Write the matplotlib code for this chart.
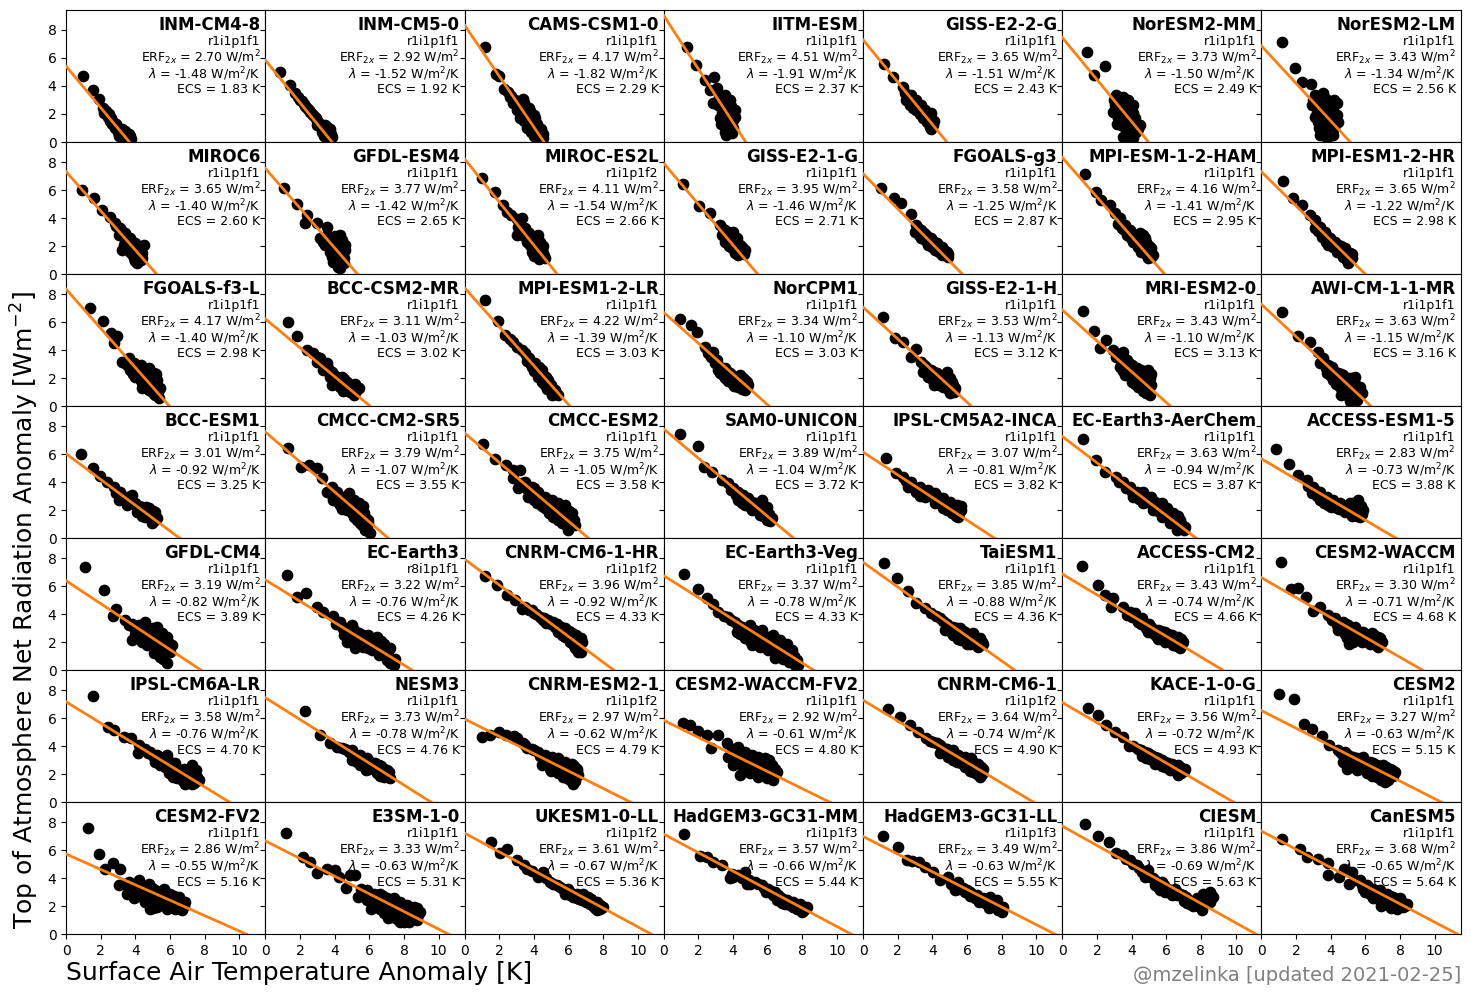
import numpy as np
import matplotlib
matplotlib.use("Agg")
import matplotlib.pyplot as plt

# Modelos, en el orden de la figura (fila por fila)
modelos = ["INM-CM4-8", "INM-CM5-0", "CAMS-CSM1-0", "IITM-ESM", "GISS-E2-2-G", "NorESM2-MM", "NorESM2-LM",
           "MIROC6", "GFDL-ESM4", "MIROC-ES2L", "GISS-E2-1-G", "FGOALS-g3", "MPI-ESM-1-2-HAM", "MPI-ESM1-2-HR",
           "FGOALS-f3-L", "BCC-CSM2-MR", "MPI-ESM1-2-LR", "NorCPM1", "GISS-E2-1-H", "MRI-ESM2-0", "AWI-CM-1-1-MR",
           "BCC-ESM1", "CMCC-CM2-SR5", "CMCC-ESM2", "SAM0-UNICON", "IPSL-CM5A2-INCA", "EC-Earth3-AerChem", "ACCESS-ESM1-5",
           "GFDL-CM4", "EC-Earth3", "CNRM-CM6-1-HR", "EC-Earth3-Veg", "TaiESM1", "ACCESS-CM2", "CESM2-WACCM",
           "IPSL-CM6A-LR", "NESM3", "CNRM-ESM2-1", "CESM2-WACCM-FV2", "CNRM-CM6-1", "KACE-1-0-G", "CESM2",
           "CESM2-FV2", "E3SM-1-0", "UKESM1-0-LL", "HadGEM3-GC31-MM", "HadGEM3-GC31-LL", "CIESM", "CanESM5"]

ripf = ["r1i1p1f1"] * 7 + \
       ["r1i1p1f1", "r1i1p1f1", "r1i1p1f2", "r1i1p1f1", "r1i1p1f1", "r1i1p1f1", "r1i1p1f1"] + \
       ["r1i1p1f1"] * 7 + \
       ["r1i1p1f1"] * 7 + \
       ["r1i1p1f1", "r8i1p1f1", "r1i1p1f2", "r1i1p1f1", "r1i1p1f1", "r1i1p1f1", "r1i1p1f1"] + \
       ["r1i1p1f1", "r1i1p1f1", "r1i1p1f2", "r1i1p1f1", "r1i1p1f2", "r1i1p1f1", "r1i1p1f1"] + \
       ["r1i1p1f1", "r1i1p1f1", "r1i1p1f2", "r1i1p1f3", "r1i1p1f3", "r1i1p1f1", "r1i1p1f1"]

erf2x = [2.70, 2.92, 4.17, 4.51, 3.65, 3.73, 3.43,
         3.65, 3.77, 4.11, 3.95, 3.58, 4.16, 3.65,
         4.17, 3.11, 4.22, 3.34, 3.53, 3.43, 3.63,
         3.01, 3.79, 3.75, 3.89, 3.07, 3.63, 2.83,
         3.19, 3.22, 3.96, 3.37, 3.85, 3.43, 3.30,
         3.58, 3.73, 2.97, 2.92, 3.64, 3.56, 3.27,
         2.86, 3.33, 3.61, 3.57, 3.49, 3.86, 3.68]

lam = [-1.48, -1.52, -1.82, -1.91, -1.51, -1.50, -1.34,
       -1.40, -1.42, -1.54, -1.46, -1.25, -1.41, -1.22,
       -1.40, -1.03, -1.39, -1.10, -1.13, -1.10, -1.15,
       -0.92, -1.07, -1.05, -1.04, -0.81, -0.94, -0.73,
       -0.82, -0.76, -0.92, -0.78, -0.88, -0.74, -0.71,
       -0.76, -0.78, -0.62, -0.61, -0.74, -0.72, -0.63,
       -0.55, -0.63, -0.67, -0.66, -0.63, -0.69, -0.65]

ecs = [1.83, 1.92, 2.29, 2.37, 2.43, 2.49, 2.56,
       2.60, 2.65, 2.66, 2.71, 2.87, 2.95, 2.98,
       2.98, 3.02, 3.03, 3.03, 3.12, 3.13, 3.16,
       3.25, 3.55, 3.58, 3.72, 3.82, 3.87, 3.88,
       3.89, 4.26, 4.33, 4.33, 4.36, 4.66, 4.68,
       4.70, 4.76, 4.79, 4.80, 4.90, 4.93, 5.15,
       5.16, 5.31, 5.36, 5.44, 5.55, 5.63, 5.64]

# Puntos (anomalia de temperatura [K], anomalia de radiacion neta [W/m2])
puntos = [
    # fila 1
    [(0.96, 4.71), (1.52, 3.71), (1.92, 3.07), (2.1, 2.4), (2.3, 2.2), (2.45, 2.0), (2.55, 1.5), (2.6, 1.7),
     (2.7, 1.45), (2.8, 1.0), (2.85, 1.25), (2.95, 1.0), (3.0, 0.7), (3.1, 0.85), (3.2, 0.6), (3.3, 0.3),
     (3.35, 0.5), (3.4, 0.8), (3.5, 0.4), (3.6, 0.25), (3.7, 0.4)],
    [(0.85, 5.02), (1.43, 4.07), (1.71, 3.48), (1.9, 3.2), (2.1, 2.9), (2.3, 2.6), (2.5, 2.3), (2.7, 2.0),
     (2.9, 1.7), (3.0, 1.5), (3.1, 1.35), (3.2, 1.1), (3.35, 0.9), (3.4, 0.45), (3.5, 0.7), (3.55, 1.1),
     (3.6, 0.5), (3.7, 0.35), (3.75, 0.9), (3.8, 0.6)],
    [(1.17, 6.8), (1.8, 4.85), (2.0, 4.7), (2.3, 3.8), (2.5, 3.6), (2.7, 3.3), (2.9, 3.0), (3.1, 2.6),
     (3.2, 1.7), (3.3, 2.3), (3.4, 2.8), (3.5, 2.0), (3.7, 1.6), (3.8, 2.2), (3.9, 1.2), (4.0, 0.4),
     (4.1, 0.9), (4.2, 1.3), (4.3, 0.6), (4.4, 0.9), (4.5, 0.3)],
    [(1.35, 6.81), (1.85, 5.5), (2.37, 4.43), (2.91, 4.67), (2.66, 3.71), (2.85, 2.76), (3.04, 3.83),
     (3.14, 2.64), (3.24, 1.69), (3.33, 2.17), (3.53, 3.36), (3.53, 1.2), (3.53, 0.74), (3.72, 2.64),
     (3.82, 0.86), (3.91, 1.93), (3.91, 0.62), (4.0, 1.57), (4.1, 2.29)],
    [(1.22, 5.55), (1.73, 4.67), (2.31, 3.95), (2.5, 3.0), (2.7, 2.64), (2.79, 3.36), (3.08, 3.0),
     (3.08, 2.29), (3.37, 2.64), (3.47, 1.69), (3.56, 2.29), (3.76, 1.93), (3.85, 1.1), (3.95, 1.57),
     (4.05, 1.21)],
    [(1.4, 6.45), (2.46, 5.45), (1.84, 4.79), (2.94, 2.17), (3.03, 2.64), (3.13, 3.36), (3.23, 1.69),
     (3.42, 2.17), (3.51, 3.24), (3.51, 0.38), (3.61, 1.21), (3.7, 2.64), (3.9, 1.93), (3.9, 0.5),
     (4.09, 1.45), (4.09, 2.64), (4.28, 0.74), (4.47, 1.21), (3.3, 2.9), (3.8, 1.0)],
    [(1.21, 7.17), (1.93, 5.31), (2.31, 4.31), (2.85, 4.14), (2.89, 2.64), (3.08, 3.36), (3.08, 1.81),
     (3.28, 1.45), (3.37, 2.4), (3.56, 3.48), (3.56, 0.74), (3.76, 1.69), (3.76, 0.26), (3.95, 2.64),
     (4.14, 0.5), (4.34, 2.76), (4.34, 1.93), (4.43, 1.45), (3.2, 2.9), (3.6, 1.2)],
    # fila 2
    [(0.91, 6.0), (1.58, 5.4), (2.06, 4.57), (2.54, 4.1), (2.83, 3.62), (3.02, 2.79), (3.12, 3.26),
     (3.22, 1.71), (3.32, 2.07), (3.41, 2.9), (3.7, 2.55), (3.7, 1.6), (3.89, 1.12), (3.99, 2.19),
     (4.08, 0.76), (4.28, 1.71), (4.37, 1.12), (4.47, 2.07)],
    [(1.1, 6.17), (1.85, 4.98), (2.39, 4.21), (2.29, 3.62), (2.97, 3.62), (3.55, 3.38), (3.16, 2.55),
     (3.45, 2.07), (3.55, 2.79), (3.74, 1.6), (3.83, 2.55), (3.93, 0.88), (4.12, 2.31), (4.12, 1.36),
     (4.32, 2.79), (4.32, 0.4), (4.41, 1.83), (4.51, 1.12), (4.6, 2.07)],
    [(0.98, 6.83), (1.75, 5.88), (2.24, 4.93), (2.43, 4.45), (2.7, 4.2), (3.0, 3.9), (3.29, 3.98),
     (3.1, 3.38), (3.0, 2.79), (3.3, 3.3), (3.49, 3.26), (3.6, 2.3), (3.7, 2.9), (3.87, 1.6), (3.9, 2.6),
     (4.07, 2.55), (4.2, 2.1), (4.26, 2.79), (4.45, 1.83), (4.5, 1.5), (4.65, 1.12)],
    [(1.12, 6.43), (2.02, 4.86), (2.66, 4.33), (3.24, 3.5), (3.33, 2.79), (3.53, 3.14), (3.53, 2.31),
     (3.82, 2.79), (3.91, 1.83), (4.0, 3.02), (4.1, 2.43), (4.3, 1.36), (4.39, 2.07), (4.59, 1.6),
     (4.68, 1.71)],
    [(1.06, 6.17), (1.79, 5.4), (2.18, 5.05), (2.79, 4.26), (2.99, 3.02), (3.08, 3.5), (3.37, 3.14),
     (3.37, 2.55), (3.66, 2.79), (3.76, 2.07), (3.95, 2.55), (4.14, 1.71), (4.24, 2.19), (4.53, 1.95),
     (4.53, 1.36), (4.82, 1.6), (4.91, 1.24)],
    [(1.3, 7.12), (1.97, 5.88), (2.26, 5.29), (2.75, 4.93), (3.03, 4.33), (3.32, 3.98), (3.42, 3.26),
     (3.61, 3.5), (3.71, 2.79), (3.9, 3.14), (4.09, 2.31), (4.29, 2.79), (4.57, 1.6), (4.67, 2.79),
     (4.86, 2.31), (4.96, 1.12), (5.06, 1.48), (5.15, 1.83), (5.25, 1.36)],
    [(1.25, 6.64), (1.83, 5.4), (2.31, 4.93), (2.79, 4.21), (3.08, 3.86), (3.08, 3.26), (3.37, 3.38),
     (3.47, 2.67), (3.66, 3.02), (3.85, 2.07), (3.95, 2.55), (4.24, 2.31), (4.34, 1.6), (4.53, 1.95),
     (4.72, 1.24), (4.82, 1.83), (5.01, 0.76), (5.11, 1.48), (5.2, 1.12)],
    # fila 3
    [(1.35, 6.98), (2.1, 6.1), (2.6, 5.19), (2.93, 5.0), (2.74, 4.48), (3.22, 3.17), (3.6, 3.4),
     (3.7, 2.57), (3.89, 3.05), (3.99, 2.1), (4.18, 2.69), (4.37, 1.62), (4.47, 2.45), (4.76, 2.69),
     (4.76, 1.14), (4.86, 1.62), (5.05, 2.33), (5.14, 0.79), (5.24, 1.86), (5.34, 0.55), (5.43, 1.26)],
    [(1.28, 5.98), (1.85, 5.02), (2.39, 4.0), (2.77, 3.76), (2.97, 3.17), (3.16, 3.4), (3.35, 2.57),
     (3.55, 3.05), (3.83, 2.45), (3.83, 1.5), (4.03, 1.86), (4.12, 2.1), (4.32, 1.38), (4.41, 2.1),
     (4.7, 1.74), (4.7, 1.14), (5.09, 1.5), (5.09, 0.79), (5.38, 1.26)],
    [(1.18, 7.57), (1.95, 6.1), (2.33, 5.07), (2.6, 4.8), (2.81, 4.6), (3.05, 4.2), (3.29, 4.0),
     (3.49, 3.76), (3.6, 3.2), (3.7, 3.4), (3.87, 2.81), (4.07, 3.05), (4.26, 2.1), (4.3, 2.8),
     (4.45, 2.57), (4.65, 1.5), (4.84, 1.86), (4.9, 1.4), (5.03, 0.79), (5.22, 1.14), (5.41, 0.79)],
    [(0.92, 6.21), (1.56, 5.79), (1.93, 5.26), (2.37, 4.24), (2.56, 3.76), (2.85, 3.88), (3.04, 3.29),
     (3.24, 2.81), (3.24, 2.33), (3.53, 2.69), (3.53, 1.98), (3.82, 2.33), (3.91, 1.62), (4.1, 2.1),
     (4.3, 1.38), (4.39, 2.21), (4.68, 1.86), (4.68, 1.14), (4.87, 1.5)],
    [(1.16, 6.38), (1.87, 4.83), (2.31, 4.6), (3.08, 4.07), (2.79, 3.48), (3.37, 3.17), (3.47, 2.45),
     (3.66, 2.81), (3.76, 2.1), (3.95, 2.57), (4.24, 2.33), (4.24, 1.62), (4.53, 2.1), (4.62, 1.38),
     (4.82, 2.45), (5.01, 0.9), (5.11, 1.74), (5.3, 1.26)],
    [(1.17, 6.79), (1.84, 5.38), (2.51, 4.71), (2.17, 4.17), (2.94, 4.0), (3.23, 3.64), (3.33, 2.81),
     (3.51, 3.88), (3.62, 2.21), (3.71, 3.29), (4.0, 2.93), (4.0, 1.74), (4.29, 2.69), (4.38, 1.38),
     (4.57, 2.57), (4.67, 1.05), (4.96, 2.57), (5.06, 1.98), (5.06, 0.79), (5.15, 1.5)],
    [(1.19, 6.69), (2.12, 5.02), (2.79, 4.6), (3.28, 3.88), (3.37, 3.05), (3.56, 3.4), (3.76, 2.33),
     (3.85, 2.93), (4.14, 2.57), (4.14, 1.86), (4.43, 2.33), (4.53, 1.38), (4.72, 2.21), (4.91, 0.79),
     (5.11, 1.98), (5.11, 0.33), (5.4, 2.1), (5.49, 0.43), (5.68, 1.38), (5.78, 0.9)],
    # fila 4
    [(0.87, 6.0), (1.52, 5.02), (1.97, 4.43), (2.35, 4.02), (2.74, 3.67), (3.05, 2.71), (3.12, 3.31),
     (3.41, 2.95), (3.53, 2.36), (3.7, 2.71), (3.8, 3.07), (3.99, 2.48), (4.1, 1.88), (4.37, 2.24),
     (4.57, 1.52), (4.76, 2.12), (4.95, 1.05), (5.14, 1.88), (5.24, 1.4)],
    [(1.29, 6.4), (2.04, 5.1), (2.49, 5.21), (2.97, 4.98), (3.26, 4.26), (3.55, 3.31), (3.83, 3.67),
     (3.93, 2.71), (4.12, 3.31), (4.32, 2.36), (4.51, 2.95), (4.7, 2.0), (4.8, 3.19), (4.9, 2.36),
     (5.09, 2.71), (5.09, 1.52), (5.38, 2.48), (5.47, 1.05), (5.57, 2.12), (5.67, 1.76), (5.76, 1.52),
     (5.76, 0.57), (5.95, 1.05), (6.05, 0.33)],
    [(1.08, 6.71), (1.75, 5.62), (2.37, 5.21), (2.81, 4.86), (3.2, 4.86), (2.81, 4.26), (3.1, 3.55),
     (3.49, 4.02), (3.68, 2.95), (3.87, 3.67), (4.16, 2.48), (4.26, 3.31), (4.65, 2.95), (4.65, 2.12),
     (5.03, 2.71), (5.13, 1.52), (5.41, 2.48), (5.61, 1.05), (5.8, 2.36), (5.99, 0.57), (6.18, 1.76),
     (6.38, 0.93)],
    [(0.92, 7.43), (1.95, 6.57), (2.33, 5.05), (2.76, 4.74), (3.33, 4.14), (3.72, 3.9), (4.01, 3.55),
     (4.3, 3.31), (4.3, 2.71), (4.59, 3.07), (4.68, 2.36), (4.87, 2.83), (5.07, 2.0), (5.26, 2.48),
     (5.55, 1.64), (5.64, 2.71), (5.93, 2.24), (5.93, 1.29), (6.22, 1.4)],
    [(1.31, 5.69), (1.93, 4.62), (2.31, 4.38), (2.6, 3.67), (2.79, 4.02), (3.08, 3.31), (3.28, 3.67),
     (3.57, 2.95), (3.76, 3.43), (4.14, 3.19), (4.14, 2.48), (4.62, 2.83), (4.62, 2.12), (5.01, 2.6),
     (5.11, 1.76), (5.4, 2.36), (5.49, 1.52), (5.68, 2.0)],
    [(1.17, 7.05), (1.94, 5.57), (2.46, 4.74), (3.13, 4.38), (3.51, 4.02), (3.9, 3.67), (4.1, 2.95),
     (4.29, 3.31), (4.67, 3.31), (4.67, 2.48), (4.96, 2.95), (5.25, 2.0), (5.35, 2.6), (5.73, 2.48),
     (5.73, 1.52), (6.02, 2.12), (6.22, 1.05), (6.41, 1.76), (6.6, 0.57), (6.8, 1.29), (7.08, 0.81)],
    [(0.83, 6.36), (1.6, 5.29), (2.12, 4.5), (2.6, 4.14), (2.89, 3.19), (2.99, 3.67), (3.37, 3.31),
     (3.37, 2.71), (3.76, 2.95), (3.85, 2.36), (4.14, 2.71), (4.34, 2.12), (4.53, 2.48), (4.82, 1.88),
     (4.91, 2.36), (5.3, 2.48), (5.3, 1.64), (5.59, 2.71), (5.68, 1.52), (5.88, 2.0)],
    # fila 5
    [(1.1, 7.33), (2.16, 5.71), (2.87, 4.36), (2.68, 3.86), (3.41, 3.57), (3.8, 3.33), (3.8, 2.14),
     (4.18, 3.21), (4.28, 2.26), (4.47, 2.74), (4.57, 3.45), (4.66, 1.79), (4.86, 2.86), (5.05, 1.55),
     (5.24, 3.1), (5.43, 2.02), (5.43, 0.95), (5.53, 2.62), (5.82, 2.38), (5.82, 0.48), (6.01, 1.31),
     (6.11, 1.79)],
    [(1.23, 6.79), (1.85, 5.24), (2.33, 5.48), (2.97, 4.52), (3.35, 4.17), (3.93, 3.88), (4.32, 3.45),
     (4.51, 2.5), (4.7, 2.98), (4.7, 2.02), (4.99, 3.21), (5.18, 1.55), (5.38, 2.62), (5.66, 2.5),
     (5.66, 1.67), (6.05, 2.26), (6.15, 1.43), (6.44, 2.38), (6.53, 1.07), (6.82, 1.9), (7.01, 0.71),
     (7.21, 1.55), (7.4, 0.36), (7.5, 0.83)],
    [(1.18, 6.74), (1.85, 6.07), (2.43, 5.36), (2.91, 5.0), (3.29, 4.4), (3.49, 4.52), (3.87, 4.29),
     (4.1, 4.0), (4.36, 3.81), (4.6, 3.7), (4.84, 3.57), (5.1, 3.45), (5.32, 3.33), (5.55, 3.1),
     (5.8, 2.98), (6.0, 2.8), (6.18, 2.62), (6.4, 2.4), (6.57, 2.26), (6.76, 2.02), (6.57, 1.31),
     (6.28, 1.9), (5.8, 2.38), (5.41, 2.74), (6.6, 1.7)],
    [(1.18, 6.9), (1.98, 5.79), (2.47, 5.17), (2.85, 4.69), (3.14, 4.17), (3.72, 3.81), (4.1, 3.45),
     (4.2, 2.74), (4.49, 3.1), (4.68, 2.26), (4.97, 3.21), (5.07, 1.79), (5.26, 2.62), (5.55, 1.67),
     (5.65, 2.86), (6.03, 2.38), (6.03, 1.43), (6.32, 2.5), (6.51, 1.19), (6.71, 2.14), (6.9, 0.83),
     (7.09, 1.9), (7.38, 1.43), (7.38, 0.6), (7.67, 0.71), (7.76, 0.36)],
    [(1.21, 7.62), (1.98, 6.55), (2.6, 5.64), (3.04, 4.76), (3.56, 4.45), (3.95, 4.05), (4.43, 3.69),
     (4.72, 2.86), (4.82, 3.33), (5.2, 3.1), (5.2, 2.5), (5.59, 2.98), (5.68, 2.14), (5.88, 2.74),
     (6.17, 1.9), (6.36, 2.62), (6.65, 1.67), (6.74, 2.26), (6.94, 1.9)],
    [(1.15, 7.43), (2.07, 6.07), (2.46, 5.36), (2.91, 5.17), (2.84, 4.52), (3.52, 4.52), (3.71, 3.93),
     (3.9, 4.17), (4.19, 4.05), (4.38, 3.45), (4.77, 3.21), (4.96, 2.74), (5.15, 3.1), (5.44, 2.38),
     (5.54, 2.86), (5.92, 2.74), (5.92, 2.02), (6.31, 2.5), (6.4, 1.79), (6.69, 2.38), (6.79, 1.55),
     (6.98, 2.02)],
    [(1.1, 7.69), (1.73, 5.79), (2.12, 5.86), (2.56, 5.24), (2.99, 4.21), (3.37, 4.52), (3.85, 3.93),
     (4.24, 3.69), (4.34, 3.21), (4.43, 2.86), (4.72, 3.45), (4.91, 2.26), (5.01, 3.21), (5.2, 2.5),
     (5.3, 2.02), (5.4, 3.1), (5.68, 2.74), (5.78, 2.02), (5.97, 2.5), (6.26, 1.9), (6.36, 2.62),
     (6.74, 2.38), (6.74, 1.67), (6.94, 2.02)],
    # fila 6
    [(1.52, 7.6), (2.41, 5.38), (2.74, 5.14), (3.31, 4.67), (3.76, 4.55), (4.12, 3.48), (4.18, 4.07),
     (4.57, 3.83), (4.86, 3.6), (5.24, 3.36), (5.43, 2.64), (5.63, 3.12), (5.82, 3.36), (5.92, 2.05),
     (6.11, 2.64), (6.4, 2.4), (6.4, 1.69), (6.69, 2.17), (6.88, 1.33), (6.97, 1.93), (7.26, 2.64),
     (7.26, 1.33), (7.46, 2.05), (7.65, 1.57)],
    [(2.29, 6.52), (3.16, 4.83), (3.74, 4.19), (4.12, 3.95), (4.61, 3.83), (4.99, 3.71), (4.99, 3.0),
     (5.09, 3.12), (5.47, 3.36), (5.47, 2.64), (5.86, 3.12), (5.96, 2.4), (6.24, 2.76), (6.44, 2.05),
     (6.53, 2.64), (6.82, 2.4), (6.82, 1.81), (7.11, 2.17), (7.21, 1.69)],
    [(0.98, 4.67), (1.46, 4.83), (2.0, 4.98), (2.85, 4.74), (3.39, 4.19), (3.49, 4.07), (3.87, 3.83),
     (4.26, 3.6), (4.45, 2.64), (4.65, 3.36), (4.94, 2.4), (5.03, 3.24), (5.41, 3.12), (5.41, 2.05),
     (5.8, 2.88), (5.9, 1.69), (6.18, 2.76), (6.28, 1.33), (6.47, 2.4), (6.57, 1.93)],
    [(1.12, 5.67), (1.5, 5.5), (1.98, 5.07), (2.52, 4.79), (3.14, 4.79), (2.72, 3.88), (3.62, 4.26),
     (3.72, 3.24), (3.91, 3.83), (4.01, 2.64), (4.3, 3.95), (4.39, 1.93), (4.49, 2.64), (4.68, 3.6),
     (4.97, 2.05), (5.07, 3.36), (5.26, 2.4), (5.45, 3.24), (5.45, 1.81), (5.84, 3.12), (5.93, 1.69),
     (6.22, 2.64), (6.32, 1.57), (6.51, 2.17)],
    [(1.45, 6.64), (2.12, 6.1), (2.7, 5.5), (3.18, 4.98), (3.66, 4.55), (4.05, 4.31), (4.43, 4.07),
     (4.43, 3.48), (4.82, 3.83), (4.91, 3.24), (5.2, 3.71), (5.4, 2.88), (5.49, 3.36), (5.88, 3.24),
     (5.88, 2.52), (6.26, 3.12), (6.36, 2.17), (6.65, 2.76), (6.74, 1.81), (6.94, 2.4)],
    [(1.49, 6.69), (2.07, 6.21), (2.55, 5.5), (3.03, 5.02), (3.52, 4.67), (3.86, 4.02), (4.38, 3.83),
     (4.77, 3.6), (4.86, 3.12), (5.15, 3.36), (5.35, 2.76), (5.54, 3.12), (5.92, 2.88), (5.92, 2.52),
     (6.31, 2.76), (6.4, 2.29), (6.69, 2.64), (6.88, 2.05), (7.08, 2.4)],
    [(1.02, 7.69), (1.87, 7.36), (2.45, 5.55), (2.89, 5.21), (3.47, 4.71), (3.91, 4.07), (4.43, 3.71),
     (4.72, 2.88), (4.82, 3.6), (4.91, 2.4), (5.11, 3.24), (5.49, 3.12), (5.49, 2.29), (5.88, 3.24),
     (6.07, 2.05), (6.26, 2.88), (6.65, 2.64), (6.65, 1.81), (7.03, 2.64), (7.13, 1.45), (7.42, 2.4),
     (7.42, 1.81), (7.71, 2.17)],
    # fila 7
    [(1.23, 7.55), (1.87, 5.76), (2.25, 4.64), (2.68, 5.1), (3.12, 4.69), (3.02, 3.5), (3.6, 3.74),
     (3.89, 2.55), (4.18, 3.86), (4.37, 3.14), (4.57, 2.31), (4.76, 3.62), (4.86, 1.83), (5.14, 3.14),
     (5.24, 1.95), (5.34, 2.55), (5.63, 3.26), (5.82, 1.83), (6.01, 2.9), (6.11, 2.31), (6.3, 1.83),
     (6.49, 2.67), (6.69, 1.71), (6.88, 2.31)],
    [(1.16, 7.26), (2.16, 5.52), (2.58, 5.17), (2.97, 4.38), (3.55, 4.64), (4.03, 4.57), (4.22, 4.1),
     (4.66, 3.33), (4.89, 4.21), (5.18, 4.21), (5.34, 2.67), (5.86, 3.14), (5.86, 2.43), (6.24, 2.9),
     (6.34, 1.95), (6.63, 2.9), (6.82, 1.48), (7.01, 2.55), (7.3, 1.24), (7.4, 2.55), (7.78, 2.31),
     (7.78, 0.88), (8.17, 2.07), (8.27, 0.88), (8.55, 1.95), (8.75, 1.0), (8.94, 1.6)],
    [(1.52, 6.6), (2.04, 5.81), (2.47, 6.05), (3.01, 5.29), (3.43, 4.93), (3.58, 4.69), (4.26, 4.1),
     (4.55, 4.45), (4.93, 3.74), (5.32, 3.5), (5.7, 3.26), (5.8, 2.9), (6.09, 3.02), (6.28, 2.67),
     (6.47, 2.55), (6.76, 2.43), (6.86, 2.9), (7.15, 2.67), (7.25, 2.19), (7.63, 2.31), (7.63, 1.71),
     (8.01, 1.95)],
    [(1.18, 7.19), (2.08, 5.57), (2.47, 5.52), (2.81, 5.17), (3.33, 4.93), (3.82, 3.98), (3.91, 4.33),
     (4.3, 4.21), (4.68, 4.45), (4.78, 3.62), (5.26, 3.74), (5.65, 3.5), (6.03, 3.26), (6.42, 3.02),
     (6.51, 2.43), (6.71, 2.67), (7.0, 2.19), (7.09, 2.43), (7.48, 2.31), (7.48, 1.95), (7.86, 2.19),
     (7.96, 1.6), (8.25, 1.95)],
    [(1.16, 7.0), (2.02, 6.24), (2.56, 5.29), (2.85, 5.2), (3.24, 5.17), (3.56, 4.81), (4.05, 4.45),
     (4.43, 3.86), (4.91, 4.1), (5.1, 3.6), (5.49, 3.74), (5.3, 3.19), (5.75, 3.3), (6.01, 3.14),
     (6.3, 2.9), (6.59, 2.79), (6.9, 2.6), (7.17, 2.43), (7.46, 2.07), (7.32, 2.67), (7.71, 2.43),
     (8.09, 1.95), (8.0, 1.6), (7.51, 2.07), (6.7, 2.3)],
    [(1.34, 7.86), (2.07, 7.0), (2.71, 6.55), (3.1, 5.81), (3.52, 5.64), (3.9, 5.29), (4.29, 4.93),
     (4.58, 4.45), (4.96, 4.57), (5.25, 3.98), (5.35, 3.5), (5.64, 3.14), (5.73, 3.74), (6.11, 3.26),
     (6.31, 2.79), (6.5, 3.26), (6.79, 2.9), (7.17, 2.67), (7.36, 2.19), (7.75, 2.55), (7.94, 2.43),
     (8.04, 1.71), (8.14, 2.9), (8.42, 2.43), (8.52, 3.02), (8.71, 2.67)],
    [(1.21, 6.83), (2.22, 6.12), (2.64, 5.52), (3.28, 5.4), (3.85, 4.21), (3.85, 5.1), (4.49, 4.1),
     (4.76, 4.69), (5.2, 4.45), (5.07, 3.57), (5.68, 3.86), (5.97, 3.02), (6.07, 3.5), (6.36, 2.79),
     (6.45, 3.26), (6.84, 3.14), (6.84, 2.43), (7.23, 2.9), (7.32, 2.07), (7.61, 2.67), (7.81, 1.83),
     (8.0, 2.55), (8.19, 1.95), (8.38, 2.19)],
]

# Puntos adicionales del nucleo denso de cada nube (mismo orden de modelos)
nube = [
    [(2.2, 2.1), (2.4, 1.8), (2.65, 1.25), (2.9, 1.2), (3.05, 0.45), (3.25, 0.95), (3.45, 0.6),
     (3.55, 0.2), (3.75, 0.2), (3.65, 0.6)],
    [(2.0, 3.0), (2.2, 2.7), (2.4, 2.45), (2.6, 2.15), (2.8, 1.85), (3.0, 1.2), (3.25, 0.7), (3.45, 1.2),
     (3.65, 0.75), (3.85, 0.35), (3.3, 0.9)],
    [(2.6, 3.2), (2.8, 2.8), (3.0, 2.3), (3.2, 2.1), (3.45, 1.5), (3.6, 1.0), (3.7, 2.4), (3.85, 0.7),
     (4.05, 1.7), (4.25, 0.3), (4.55, 0.6), (3.35, 3.1), (4.0, 1.9)],
    [(3.2, 3.2), (3.4, 2.9), (3.6, 2.0), (3.7, 1.5), (3.8, 3.0), (3.3, 1.3), (3.6, 0.5), (4.0, 1.0),
     (3.45, 2.4), (3.9, 2.6), (4.1, 1.8), (3.75, 1.1)],
    [(2.4, 3.5), (2.6, 3.3), (2.95, 2.9), (3.2, 2.5), (3.3, 2.0), (3.6, 1.7), (3.7, 1.4), (3.9, 2.1),
     (4.1, 1.5), (3.95, 0.95), (2.9, 2.4)],
    [(3.0, 3.0), (3.2, 2.4), (3.3, 1.9), (3.4, 1.2), (3.5, 2.7), (3.6, 1.7), (3.7, 0.8), (3.8, 2.2),
     (3.9, 1.3), (4.0, 0.9), (4.1, 2.1), (4.2, 1.7), (4.3, 1.2), (4.4, 0.9), (3.6, 0.2), (4.1, 0.3),
     (3.3, 3.1), (3.8, 3.0), (3.15, 1.3)],
    [(3.0, 3.0), (3.2, 2.1), (3.3, 1.0), (3.45, 2.9), (3.5, 1.8), (3.6, 2.2), (3.7, 3.1), (3.8, 1.1),
     (3.9, 2.0), (3.95, 0.6), (4.0, 1.3), (4.1, 2.3), (4.2, 1.0), (4.3, 1.6), (3.4, 0.5), (3.85, 2.6),
     (4.2, 3.0)],
    [(2.9, 3.4), (3.3, 3.0), (3.5, 2.6), (3.55, 2.0), (3.8, 2.3), (3.8, 1.4), (3.95, 1.8), (4.1, 1.3),
     (4.2, 2.0), (4.3, 1.0), (4.4, 1.5), (3.4, 2.4), (4.0, 0.9)],
    [(3.3, 2.3), (3.65, 2.3), (3.9, 2.0), (4.0, 1.6), (4.2, 1.9), (4.2, 1.0), (4.4, 2.4), (4.45, 1.45),
     (4.55, 0.8), (4.4, 0.7), (3.85, 1.2), (4.0, 2.7), (4.2, 0.5), (4.6, 1.7)],
    [(3.4, 2.7), (3.6, 2.6), (3.75, 2.1), (3.95, 2.2), (4.05, 1.8), (4.35, 2.3), (4.4, 1.4), (4.6, 1.3),
     (4.55, 2.0), (4.3, 1.1), (4.0, 1.3)],
    [(3.4, 3.2), (3.65, 2.6), (3.7, 3.0), (3.75, 2.0), (4.0, 2.2), (4.2, 2.6), (4.2, 1.8), (4.4, 1.6),
     (4.5, 1.9), (4.1, 1.5), (4.6, 1.4)],
    [(3.2, 3.3), (3.5, 2.95), (3.55, 2.4), (3.85, 2.3), (4.05, 2.35), (4.35, 2.05), (4.4, 1.6),
     (4.65, 1.75), (4.7, 1.4), (4.0, 1.9), (4.9, 1.45), (3.25, 2.8)],
    [(3.2, 3.6), (3.5, 3.2), (3.8, 2.95), (3.95, 2.6), (4.2, 2.5), (4.4, 2.4), (4.5, 2.9), (4.6, 2.2),
     (4.75, 1.9), (4.8, 2.6), (5.0, 2.0), (4.4, 1.9), (5.1, 1.2), (4.85, 1.4)],
    [(3.25, 3.1), (3.55, 2.8), (3.75, 2.8), (3.75, 2.3), (4.05, 2.3), (4.1, 1.9), (4.4, 2.1), (4.45, 1.75),
     (4.65, 1.6), (4.95, 1.6), (4.9, 1.1), (5.1, 1.0), (4.6, 2.0), (5.2, 1.4)],
    [(3.5, 2.9), (3.8, 2.7), (3.85, 2.3), (4.1, 2.4), (4.25, 1.9), (4.3, 2.9), (4.55, 2.1), (4.6, 1.5),
     (4.65, 2.5), (4.9, 2.1), (4.95, 1.3), (5.0, 0.9), (5.15, 1.6), (5.3, 1.0), (4.4, 1.3), (5.2, 2.3)],
    [(3.0, 3.5), (3.35, 3.0), (3.6, 2.7), (3.7, 2.1), (3.95, 2.2), (4.0, 1.55), (4.25, 1.7), (4.5, 1.5),
     (4.55, 1.9), (4.85, 1.4), (4.9, 1.0), (5.25, 1.05), (5.2, 1.6), (4.5, 1.1)],
    [(3.6, 3.5), (3.8, 3.1), (4.0, 2.5), (4.15, 2.4), (4.4, 2.2), (4.55, 1.9), (4.7, 2.1), (4.75, 1.2),
     (5.0, 1.5), (5.1, 1.1), (5.3, 0.9), (4.45, 1.7), (3.95, 2.8)],
    [(2.7, 3.5), (2.95, 3.1), (3.1, 2.6), (3.35, 2.55), (3.4, 2.2), (3.7, 2.45), (3.7, 1.8), (3.95, 2.0),
     (4.05, 1.45), (4.25, 1.85), (4.5, 1.6), (4.55, 2.0), (4.8, 1.7), (4.5, 1.2), (4.75, 1.3)],
    [(3.5, 2.9), (3.6, 2.4), (3.85, 2.35), (4.0, 1.9), (4.1, 2.4), (4.35, 2.0), (4.4, 1.5), (4.65, 1.9),
     (4.75, 1.6), (4.9, 1.2), (5.0, 2.0), (5.2, 1.5), (4.1, 1.5), (5.25, 1.0)],
    [(3.1, 3.5), (3.4, 3.3), (3.5, 2.5), (3.8, 2.9), (3.85, 2.2), (4.15, 2.3), (4.2, 1.6), (4.45, 2.0),
     (4.5, 2.4), (4.6, 1.5), (4.8, 1.9), (4.8, 1.2), (4.95, 1.5), (5.1, 2.3), (4.85, 0.9), (3.85, 3.1)],
    [(3.5, 3.1), (3.7, 2.7), (3.95, 2.2), (4.05, 2.8), (4.3, 2.1), (4.3, 1.6), (4.55, 1.9), (4.6, 2.3),
     (4.75, 1.5), (4.8, 1.0), (4.95, 1.7), (5.0, 1.3), (5.25, 1.6), (5.25, 0.9), (5.5, 1.4), (5.6, 0.7),
     (5.3, 0.5), (4.6, 0.8)],
    [(2.9, 3.2), (3.25, 2.8), (3.55, 2.9), (3.6, 2.5), (3.85, 2.4), (4.2, 2.3), (4.25, 1.9), (4.5, 2.0),
     (4.6, 2.2), (4.8, 1.6), (5.0, 1.9), (5.1, 1.3), (4.4, 1.6)],
    [(3.7, 3.2), (4.0, 2.9), (4.2, 2.6), (4.4, 2.1), (4.6, 2.5), (4.7, 2.7), (4.95, 2.2), (5.2, 2.2),
     (5.25, 1.8), (5.45, 2.0), (5.5, 1.4), (5.6, 0.9), (5.85, 0.8), (5.9, 1.3), (5.65, 2.3), (5.3, 1.3),
     (5.0, 1.8)],
    [(3.3, 3.9), (3.6, 3.5), (3.9, 3.1), (4.0, 2.7), (4.4, 2.9), (4.45, 2.3), (4.8, 2.6), (4.85, 1.8),
     (5.2, 2.3), (5.3, 1.9), (5.5, 2.1), (5.6, 1.6), (5.8, 1.3), (6.0, 1.9), (6.1, 1.2), (6.3, 1.3),
     (5.85, 0.9), (5.4, 1.3), (4.0, 3.6)],
    [(3.9, 3.4), (4.15, 3.1), (4.45, 2.9), (4.5, 2.5), (4.75, 2.6), (4.9, 2.3), (5.1, 2.6), (5.2, 2.1),
     (5.4, 2.3), (5.45, 1.9), (5.7, 2.2), (5.75, 1.6), (6.05, 1.7), (6.1, 1.2), (5.8, 1.9)],
    [(2.5, 4.1), (2.95, 3.6), (3.4, 3.3), (3.6, 3.3), (3.9, 3.0), (4.35, 2.9), (4.4, 2.5), (4.8, 2.4),
     (4.85, 2.0), (5.2, 2.3), (5.25, 1.9), (5.55, 1.8), (5.65, 2.3), (5.35, 1.6), (3.3, 3.0)],
    [(3.3, 4.0), (3.7, 3.6), (4.0, 3.3), (4.45, 2.8), (4.5, 3.2), (4.85, 2.6), (5.1, 2.5), (5.15, 2.9),
     (5.5, 2.3), (5.55, 1.9), (5.9, 2.0), (6.1, 1.5), (6.3, 1.5), (6.55, 1.0), (6.7, 1.6), (6.9, 0.9),
     (6.45, 1.3), (6.0, 1.8), (7.0, 0.6)],
    [(2.7, 3.7), (3.1, 3.4), (3.2, 3.0), (3.55, 2.9), (3.6, 2.5), (3.95, 2.6), (4.0, 2.2), (4.3, 2.5),
     (4.5, 2.1), (4.7, 2.2), (5.0, 1.9), (5.1, 2.5), (5.2, 1.6), (5.45, 2.0), (5.5, 2.6), (5.75, 2.3),
     (5.8, 1.7), (5.5, 1.6)],
    [(3.6, 3.2), (3.95, 2.9), (4.0, 2.5), (4.35, 3.0), (4.4, 2.0), (4.7, 2.6), (4.75, 2.2), (4.9, 2.4),
     (5.0, 3.0), (5.15, 2.6), (5.2, 1.9), (5.35, 2.3), (5.3, 1.3), (5.6, 2.1), (5.65, 1.6), (5.7, 1.2),
     (5.9, 2.0), (5.95, 1.6), (5.6, 0.8), (4.95, 1.9), (5.05, 1.2)],
    [(4.1, 3.3), (4.4, 3.1), (4.55, 2.8), (4.85, 2.6), (4.9, 2.3), (5.1, 2.9), (5.2, 2.1), (5.5, 2.3),
     (5.45, 1.8), (5.8, 2.1), (5.9, 1.6), (6.2, 1.9), (6.3, 1.6), (6.6, 1.6), (6.65, 2.1), (6.8, 1.3),
     (6.95, 1.1), (7.1, 1.4), (7.25, 0.8), (7.2, 0.5), (6.3, 2.3), (5.95, 2.5)],
    [(3.7, 4.3), (4.0, 4.1), (4.5, 3.6), (4.7, 3.4), (5.0, 3.3), (5.2, 3.1), (5.6, 2.8), (5.9, 2.6),
     (6.1, 2.3), (6.3, 2.1), (6.45, 2.5), (6.7, 2.3), (6.4, 1.6), (6.7, 1.3), (6.1, 2.0), (5.6, 2.5)],
    [(3.5, 3.9), (3.9, 3.6), (4.3, 3.2), (4.4, 2.6), (4.7, 2.9), (4.85, 2.4), (5.0, 2.1), (5.2, 2.9),
     (5.35, 2.3), (5.5, 2.6), (5.8, 2.4), (5.8, 1.8), (6.1, 2.1), (6.25, 1.6), (6.5, 2.2), (6.6, 1.7),
     (6.75, 1.3), (6.95, 1.6), (7.2, 1.2), (7.2, 0.6), (7.5, 1.0), (7.6, 0.4), (5.4, 1.9), (6.4, 0.9)],
    [(4.2, 3.9), (4.6, 3.5), (4.95, 3.0), (5.05, 2.7), (5.4, 3.0), (5.45, 2.5), (5.75, 2.8), (5.9, 2.3),
     (6.05, 2.6), (6.2, 2.2), (6.45, 2.2), (6.5, 1.8), (6.85, 2.0), (5.5, 2.2), (6.0, 1.9)],
    [(4.0, 3.8), (4.55, 3.3), (4.6, 3.7), (4.85, 3.0), (5.0, 3.3), (5.3, 2.9), (5.3, 2.6), (5.7, 2.8),
     (5.7, 2.3), (6.1, 2.6), (6.1, 2.1), (6.5, 2.3), (6.55, 2.0), (6.85, 2.2), (6.6, 1.7), (5.5, 2.2)],
    [(4.05, 3.6), (4.5, 3.4), (4.6, 3.0), (4.85, 3.3), (4.8, 2.6), (5.1, 2.8), (5.15, 2.3), (5.5, 2.8),
     (5.5, 2.2), (5.85, 2.7), (5.9, 2.2), (6.1, 2.5), (6.15, 2.0), (6.5, 2.5), (6.5, 2.0), (6.85, 2.3),
     (6.6, 1.8), (5.05, 1.9)],
    [(4.4, 3.8), (4.7, 3.5), (5.0, 3.3), (5.1, 2.9), (5.4, 3.2), (5.55, 2.8), (5.7, 2.5), (6.0, 2.9),
     (6.0, 2.3), (6.25, 2.0), (6.3, 2.8), (6.55, 2.2), (6.6, 1.7), (6.8, 2.4), (6.75, 1.5), (7.1, 2.2),
     (7.0, 1.5), (7.15, 1.8), (7.35, 1.7), (7.5, 2.3), (7.55, 1.8), (7.4, 1.4), (6.15, 1.8)],
    [(4.4, 3.9), (4.8, 3.6), (5.2, 3.4), (5.3, 2.9), (5.65, 3.0), (5.7, 2.6), (6.05, 2.9), (6.1, 2.5),
     (6.3, 2.3), (6.35, 2.8), (6.65, 2.2), (6.7, 2.6), (6.95, 2.0), (7.0, 2.3), (7.1, 1.8), (5.8, 2.3),
     (6.6, 1.9)],
    [(3.6, 3.9), (4.0, 3.7), (4.35, 3.3), (4.55, 3.1), (4.75, 3.2), (4.85, 2.7), (5.2, 2.9), (5.2, 2.4),
     (5.6, 2.7), (5.6, 2.2), (5.95, 2.5), (6.0, 2.1), (6.3, 2.6), (6.3, 2.0), (6.5, 2.2), (6.4, 1.5),
     (6.1, 1.6), (5.7, 1.8), (5.0, 2.2), (3.0, 4.6), (2.4, 4.8)],
    [(4.1, 3.4), (4.2, 3.0), (4.5, 3.4), (4.6, 3.0), (4.8, 2.8), (4.8, 2.3), (5.0, 3.1), (5.15, 2.7),
     (5.3, 3.0), (5.35, 2.1), (5.6, 2.8), (5.65, 2.2), (5.9, 2.6), (5.95, 2.1), (6.05, 3.0), (6.2, 2.0),
     (6.4, 2.4), (6.15, 1.7), (4.55, 2.2), (3.95, 3.6)],
    [(3.85, 4.4), (4.25, 4.2), (4.6, 3.9), (4.7, 3.5), (5.0, 3.6), (5.1, 3.3), (5.3, 3.1), (5.6, 3.2),
     (5.65, 2.8), (6.0, 3.0), (6.1, 2.6), (6.4, 2.8), (6.5, 2.4), (6.8, 2.5), (6.55, 2.0), (6.85, 2.0),
     (5.2, 3.0), (6.2, 2.2)],
    [(4.1, 4.0), (4.55, 3.7), (4.6, 3.3), (4.95, 3.5), (5.05, 3.1), (5.35, 3.2), (5.5, 2.8), (5.75, 3.0),
     (5.75, 2.6), (6.1, 2.8), (6.15, 2.5), (6.5, 2.6), (6.55, 2.3), (6.8, 2.5), (6.85, 2.2), (7.0, 2.2),
     (6.7, 1.95), (6.2, 2.3)],
    [(4.6, 3.5), (5.0, 3.4), (5.0, 2.7), (5.3, 3.2), (5.3, 2.6), (5.7, 3.0), (5.7, 2.4), (6.0, 2.7),
     (6.15, 2.4), (6.45, 2.8), (6.45, 2.3), (6.8, 2.5), (6.85, 2.0), (7.2, 2.5), (7.25, 2.0), (7.55, 2.3),
     (7.6, 1.9), (6.9, 1.6), (6.4, 1.9), (7.3, 1.6)],
    [(3.4, 3.6), (3.8, 3.5), (4.0, 3.2), (4.2, 2.7), (4.5, 3.3), (4.6, 2.8), (4.95, 3.3), (4.95, 2.5),
     (5.1, 2.2), (5.4, 3.0), (5.5, 2.2), (5.7, 2.7), (5.75, 2.2), (5.95, 2.4), (6.2, 2.7), (6.3, 2.3),
     (6.6, 2.4), (6.5, 2.0), (6.8, 2.0), (5.0, 1.9), (3.5, 2.9)],
    [(5.5, 3.2), (5.6, 2.8), (6.0, 2.7), (6.1, 2.3), (6.4, 2.6), (6.5, 2.2), (6.6, 1.8), (6.8, 2.7),
     (6.9, 2.1), (7.1, 1.8), (7.2, 2.3), (7.5, 2.1), (7.5, 1.6), (7.6, 1.1), (7.9, 1.8), (8.0, 1.3),
     (8.3, 1.7), (8.4, 1.3), (8.6, 1.5), (8.8, 1.4), (8.0, 0.9), (8.5, 1.1), (7.05, 1.15), (6.1, 1.8),
     (8.75, 1.9)],
    [(3.9, 4.5), (4.4, 4.2), (4.7, 4.0), (5.1, 3.6), (5.5, 3.4), (5.95, 3.2), (6.1, 2.8), (6.5, 2.9),
     (6.6, 2.5), (6.95, 2.6), (7.0, 2.3), (7.3, 2.5), (7.4, 2.0), (7.8, 2.1), (7.8, 1.8), (7.5, 1.9)],
    [(4.0, 4.1), (4.5, 4.0), (4.9, 3.9), (5.0, 3.6), (5.45, 3.6), (5.8, 3.3), (5.9, 3.0), (6.2, 3.1),
     (6.3, 2.8), (6.6, 2.8), (6.9, 2.5), (7.2, 2.3), (7.3, 2.1), (7.7, 2.1), (7.7, 1.8), (8.0, 2.0),
     (8.1, 1.7), (6.8, 2.2)],
    [(5.55, 3.2), (5.9, 3.0), (6.15, 3.0), (6.45, 2.6), (6.8, 2.5), (7.05, 2.2), (7.3, 2.3), (7.6, 2.2),
     (7.85, 2.0), (7.8, 1.7), (7.25, 1.9), (6.2, 2.7)],
    [(3.7, 5.4), (4.1, 5.0), (4.45, 4.7), (4.75, 4.4), (4.8, 4.1), (5.05, 4.1), (5.4, 3.8), (5.55, 3.4),
     (5.9, 3.5), (5.95, 3.0), (6.3, 3.1), (6.6, 2.8), (6.95, 2.8), (7.0, 2.4), (7.5, 2.4), (7.55, 2.0),
     (7.85, 2.0), (8.3, 2.6), (8.6, 2.8), (8.25, 2.2), (8.5, 2.3), (7.2, 2.2), (6.6, 3.0)],
    [(5.4, 3.9), (5.8, 3.5), (5.85, 3.2), (6.2, 3.3), (6.25, 2.9), (6.6, 3.0), (6.6, 2.6), (7.0, 2.9),
     (7.0, 2.4), (7.4, 2.7), (7.45, 2.2), (7.8, 2.4), (7.7, 2.0), (8.1, 2.3), (8.3, 2.0), (7.5, 1.9),
     (6.9, 2.0), (6.45, 2.6)],
]

fig, axes = plt.subplots(7, 7, figsize=(14.71, 9.97), dpi=100, sharex=True, sharey=True)
fig.subplots_adjust(left=0.045, right=0.993, bottom=0.063, top=0.99, wspace=0, hspace=0)

x_recta = np.array([0.0, 12.0])

for i, ax in enumerate(axes.flat):
    pts = np.array(puntos[i] + nube[i])
    ax.scatter(pts[:, 0], pts[:, 1], s=55, color='k', zorder=2)

    # Recta de regresion: N = 2*ERF2x + lambda*T
    ax.plot(x_recta, 2 * erf2x[i] + lam[i] * x_recta, color='tab:orange', linewidth=2, zorder=3)

    ax.text(0.975, 0.955, modelos[i], transform=ax.transAxes, ha='right', va='top',
            fontsize=12, fontweight='bold', zorder=1)
    ax.text(0.975, 0.76, ripf[i], transform=ax.transAxes, ha='right', va='center', fontsize=9, zorder=1)
    ax.text(0.975, 0.64, 'ERF$_{2x}$ = %.2f W/m$^2$' % erf2x[i], transform=ax.transAxes,
            ha='right', va='center', fontsize=9, zorder=1)
    ax.text(0.975, 0.515, '$\\lambda$ = %.2f W/m$^2$/K' % lam[i], transform=ax.transAxes,
            ha='right', va='center', fontsize=9, zorder=1)
    ax.text(0.975, 0.395, 'ECS = %.2f K' % ecs[i], transform=ax.transAxes,
            ha='right', va='center', fontsize=9, zorder=1)

    ax.set_xlim(0, 11.5)
    ax.set_ylim(0, 9.43)
    ax.set_xticks([0, 2, 4, 6, 8, 10])
    ax.set_yticks([0, 2, 4, 6, 8])
    ax.tick_params(labelsize=10)

fig.text(66 / 1471, 1 - 973 / 997, 'Surface Air Temperature Anomaly [K]', ha='left', va='center', fontsize=18)
fig.text(25 / 1471, 1 - 610 / 997, 'Top of Atmosphere Net Radiation Anomaly [Wm$^{-2}$]',
         ha='center', va='center', rotation=90, fontsize=18)
fig.text(1461 / 1471, 1 - 975 / 997, '@mzelinka [updated 2021-02-25]', ha='right', va='center',
         fontsize=14, color='gray')

plt.savefig('out.png', dpi=100)
